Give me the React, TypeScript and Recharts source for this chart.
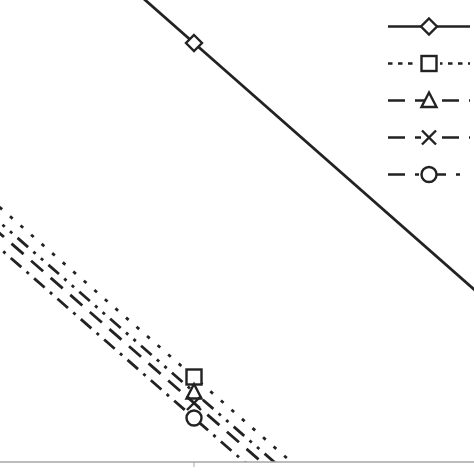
import React from 'react';
import { LineChart, Line, XAxis, YAxis, Legend } from 'recharts';

const xValues = [-1, 0, 1];
const seriesDiamond = [6.83, 4.19, 1.55];
const seriesSquare = [3.47, 0.85, -1.77];
const seriesTriangle = [3.32, 0.7, -1.92];
const seriesCross = [3.21, 0.59, -2.03];
const seriesCircle = [3.06, 0.44, -2.18];
const xTicks = [0];

const INK = '#222222';

const data = xValues.map((x, i) => ({
  x,
  diamond: seriesDiamond[i],
  square: seriesSquare[i],
  triangle: seriesTriangle[i],
  cross: seriesCross[i],
  circle: seriesCircle[i],
}));

const series = [
  { key: 'diamond', dash: undefined as string | undefined, legendDash: undefined as string | undefined },
  { key: 'square', dash: '3.5 10.5', legendDash: '4.5 5.5' },
  { key: 'triangle', dash: '14 7 3 7 3 7', legendDash: '17 10' },
  { key: 'cross', dash: '16 10', legendDash: '17 10' },
  { key: 'circle', dash: '14 7 3 7', legendDash: '17 10 4 10' },
];

function Marker({ shape, cx, cy, legend }: { shape: string; cx?: number; cy?: number; legend?: boolean }) {
  if (cx == null || cy == null || isNaN(cx) || isNaN(cy)) return null;
  const sw = 2.4;
  switch (shape) {
    case 'diamond':
      return (
        <polygon
          points={`${cx},${cy - 8} ${cx + 8},${cy} ${cx},${cy + 8} ${cx - 8},${cy}`}
          fill="#fff"
          stroke={INK}
          strokeWidth={sw}
        />
      );
    case 'square':
      return (
        <g>
          {legend ? <rect x={cx - 11} y={cy - 3} width={22} height={6} fill="#fff" /> : null}
          <rect x={cx - 7.5} y={cy - 7.5} width={15} height={15} fill="#fff" stroke={INK} strokeWidth={sw} />
        </g>
      );
    case 'triangle':
      return (
        <polygon
          points={`${cx},${cy - 8} ${cx + 7.5},${cy + 6.5} ${cx - 7.5},${cy + 6.5}`}
          fill="#fff"
          stroke={INK}
          strokeWidth={sw}
        />
      );
    case 'cross':
      return (
        <g>
          {legend ? <rect x={cx - 8} y={cy - 3} width={16} height={6} fill="#fff" /> : null}
          <g stroke={INK} strokeWidth={sw}>
            <line x1={cx - 7} y1={cy - 7} x2={cx + 7} y2={cy + 7} />
            <line x1={cx - 7} y1={cy + 7} x2={cx + 7} y2={cy - 7} />
          </g>
        </g>
      );
    case 'circle':
      return <circle cx={cx} cy={cy} r={7.5} fill="#fff" stroke={INK} strokeWidth={sw} />;
    default:
      return null;
  }
}

function LegendBox() {
  return (
    <div>
      {series.map((s) => (
        <svg key={s.key} width={86} height={37} style={{ display: 'block' }}>
          <line x1={2} x2={84} y1={18.5} y2={18.5} stroke={INK} strokeWidth={2.6} strokeDasharray={s.legendDash} />
          <Marker shape={s.key} cx={43} cy={18.5} legend />
        </svg>
      ))}
    </div>
  );
}

export default function App() {
  return (
    <div style={{ position: 'absolute', left: 0, top: 0, width: 474, height: 474, background: '#fff' }}>
      <LineChart width={474} height={474} data={data} margin={{ top: 0, right: 0, bottom: 0, left: 0 }}>
        <XAxis
          dataKey="x"
          type="number"
          domain={[-194 / 300, 280 / 300]}
          ticks={xTicks}
          allowDataOverflow
          tickFormatter={() => ''}
          height={12}
          tickSize={5}
          axisLine={{ stroke: '#a6a6a6', strokeWidth: 1.5 }}
          tickLine={{ stroke: '#a6a6a6', strokeWidth: 1 }}
        />
        <YAxis hide type="number" domain={[0, 4.62]} allowDataOverflow />
        <Legend
          layout="vertical"
          align="center"
          verticalAlign="middle"
          content={() => <LegendBox />}
          wrapperStyle={{ left: 386, top: 7.5, width: 88 }}
        />
        {series.map((s) => (
          <Line
            key={s.key}
            dataKey={s.key}
            type="linear"
            stroke={INK}
            strokeWidth={2.8}
            strokeDasharray={s.dash}
            isAnimationActive={false}
            dot={(p: any) => <Marker key={`${s.key}-${p.index}`} shape={s.key} cx={p.cx} cy={p.cy} />}
            activeDot={false}
          />
        ))}
      </LineChart>
    </div>
  );
}
